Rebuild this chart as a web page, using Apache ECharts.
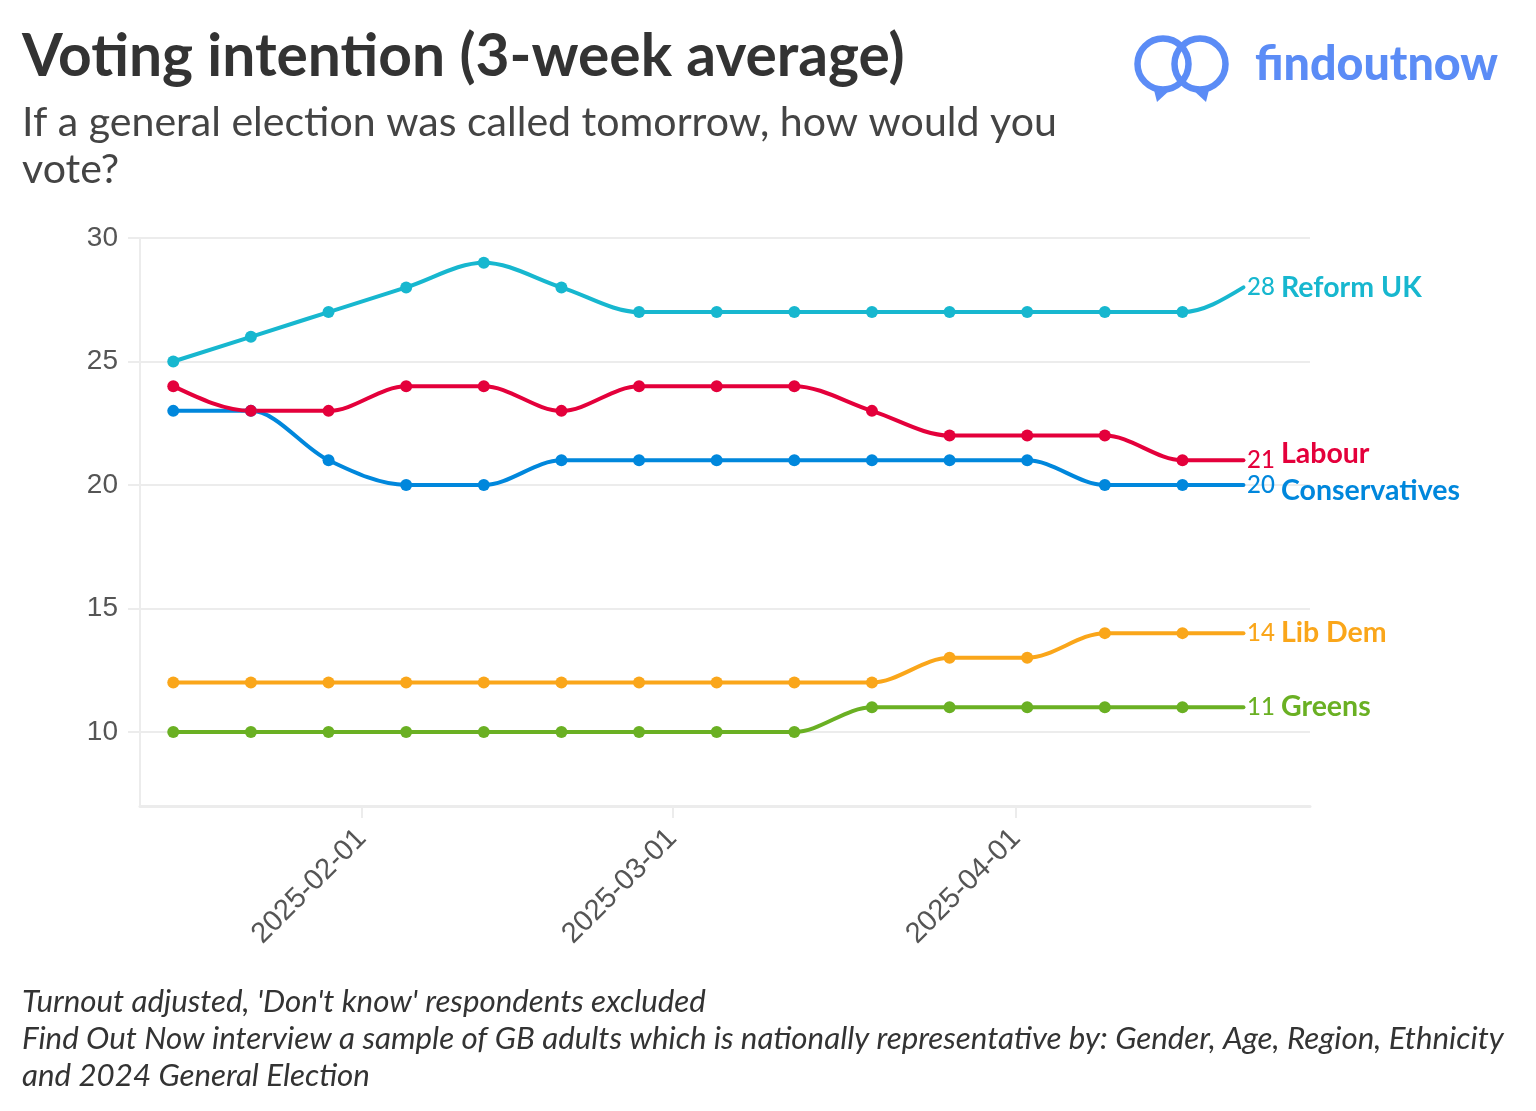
<!DOCTYPE html>
<html>
<head>
<meta charset="utf-8">
<script src="https://cdn.jsdelivr.net/npm/echarts@6/dist/echarts.min.js"></script>
<style>
html,body{margin:0;padding:0;background:#fff;}
#chart{width:1536px;height:1111px;}
</style>
</head>
<body>
<div id="chart"></div>
<script>
// ---- data ----
const dates = ['2025-01-15','2025-01-22','2025-01-29','2025-02-05','2025-02-12','2025-02-19','2025-02-26','2025-03-05','2025-03-12','2025-03-19','2025-03-26','2025-04-02','2025-04-09','2025-04-16','2025-04-21 12:00'];
const reformUK      = [25,26,27,28,29,28,27,27,27,27,27,27,27,27,28];
const labour        = [24,23,23,24,24,23,24,24,24,23,22,22,22,21,21];
const conservatives = [23,23,21,20,20,21,21,21,21,21,21,21,20,20,20];
const libDem        = [12,12,12,12,12,12,12,12,12,12,13,13,14,14,14];
const greens        = [10,10,10,10,10,10,10,10,10,11,11,11,11,11,11];
const monthTicks = ['2025-02-01','2025-03-01','2025-04-01'];
const yTicks = [10,15,20,25,30];

const titleText = 'Voting intention (3-week average)';
const subtitleLines = ['If a general election was called tomorrow, how would you','vote?'];
const footerLines = ["Turnout adjusted, 'Don't know' respondents excluded",
  'Find Out Now interview a sample of GB adults which is nationally representative by: Gender, Age, Region, Ethnicity',
  'and 2024 General Election'];

// ---- helpers ----
function toTs(s){ const m=s.match(/(\d+)-(\d+)-(\d+)(?: (\d+):(\d+))?/); return Date.UTC(+m[1],+m[2]-1,+m[3],+(m[4]||0),+(m[5]||0)); }
function fmt(v){ const d=new Date(v); const p=n=>String(n).padStart(2,'0'); return d.getUTCFullYear()+'-'+p(d.getUTCMonth()+1)+'-'+p(d.getUTCDate()); }
const cvs=document.createElement('canvas').getContext('2d');
function fit(text, style, weight, family, target){
  cvs.font = style+' '+weight+' 100px '+family;
  const w = cvs.measureText(text).width;
  return Math.round(100*target/w*10)/10;
}

const FONT = 'Lato, "Noto Sans", sans-serif';
const AXFONT = '"Liberation Sans", Arial, sans-serif';
const last = dates.length-1;
const LW = 4;

// monotone-X cubic tangents (Fritsch–Carlson, as d3.curveMonotoneX)
function sgn(v){ return v<0?-1:1; }
function monoSegments(pts){
  const n = pts.length, t = new Array(n);
  for (let i=1;i<n-1;i++){
    const h0 = pts[i][0]-pts[i-1][0], h1 = pts[i+1][0]-pts[i][0];
    const s0 = (pts[i][1]-pts[i-1][1])/h0, s1 = (pts[i+1][1]-pts[i][1])/h1;
    const p = (s0*h1 + s1*h0)/(h0+h1);
    t[i] = (sgn(s0)+sgn(s1)) * Math.min(Math.abs(s0), Math.abs(s1), 0.5*Math.abs(p)) || 0;
  }
  const e = (a,b,tt)=>{ const h=b[0]-a[0]; return h ? (3*(b[1]-a[1])/h - tt)/2 : tt; };
  t[0] = e(pts[0], pts[1], t[1]);
  t[n-1] = e(pts[n-2], pts[n-1], t[n-2]);
  const segs = [];
  for (let i=0;i<n-1;i++){
    const a=pts[i], b=pts[i+1], dx=(b[0]-a[0])/3;
    segs.push({x1:a[0], y1:a[1], cpx1:a[0]+dx, cpy1:a[1]+dx*t[i], cpx2:b[0]-dx, cpy2:b[1]-dx*t[i+1], x2:b[0], y2:b[1]});
  }
  return segs;
}

function curveSeries(vals, color){
  return {
    type:'custom', silent:true, z:1, clip:true,
    data: dates.map((d,i)=>[toTs(d), vals[i]]),
    encode:{x:0, y:1},
    renderItem:(params, api)=>{
      if (params.dataIndex !== 0) return null;
      const pts = dates.map((d,i)=>api.coord([toTs(d), vals[i]]));
      return {type:'group', children: monoSegments(pts).map(s=>({
        type:'bezierCurve', shape:s, style:{stroke:color, lineWidth:LW, fill:null, lineCap:'round'}
      }))};
    }
  };
}

function markSeries(name, vals, color, dy){
  const data = dates.map((d,i)=> i===last ? {value:[toTs(d), vals[i]], symbol:'none'} : [toTs(d), vals[i]]);
  return {
    type:'line', name, data, z:3,
    symbol:'circle', symbolSize:12, showSymbol:true, showAllSymbol:true,
    lineStyle:{width:0, opacity:0}, itemStyle:{color},
    emphasis:{disabled:true},
    markPoint:{
      symbol:'circle', symbolSize:1, itemStyle:{color:'rgba(0,0,0,0)'},
      data:[
        {coord:[toTs(dates[last]), vals[last]], label:{show:true, position:'right', distance:3, offset:[0,0], formatter:String(vals[last]), color, fontSize:24, fontFamily:FONT, fontWeight:500}},
        {coord:[toTs(dates[last]), vals[last]], label:{show:true, position:'right', distance:37, offset:[0,dy], formatter:name, color, fontWeight:'bold', fontSize:28.5, fontFamily:FONT}}
      ]
    }
  };
}

const titleSize = fit(titleText,'normal','bold','Lato',883);
const subSize = fit(subtitleLines[0],'normal','normal','Lato',1035);
const footSize = fit(footerLines[1],'italic','normal','Lato',1480);
const logoSize = fit('findoutnow','normal','900','Lato',243);
const logoColor = '#5b8cf6';

const graphic = [
  {type:'text', left:22, top:28, style:{text:titleText, font:'bold '+titleSize+'px Lato', fill:'#333'}},
  {type:'text', left:22, top:102, style:{text:subtitleLines[0], font:'normal '+subSize+'px Lato', fill:'#444'}},
  {type:'text', left:22, top:149, style:{text:subtitleLines[1], font:'normal '+subSize+'px Lato', fill:'#444'}},
  {type:'text', left:22, top:986, style:{text:footerLines[0], font:'italic '+footSize+'px Lato', fill:'#333'}},
  {type:'text', left:22, top:1023, style:{text:footerLines[1], font:'italic '+footSize+'px Lato', fill:'#333'}},
  {type:'text', left:22, top:1060, style:{text:footerLines[2], font:'italic '+footSize+'px Lato', fill:'#333'}},
  // logo
  {type:'circle', shape:{cx:1163, cy:64, r:25.5}, style:{fill:'none', stroke:logoColor, lineWidth:6.5}},
  {type:'circle', shape:{cx:1200, cy:64, r:25.5}, style:{fill:'none', stroke:logoColor, lineWidth:6.5}},
  {type:'polygon', shape:{points:[[1153,86],[1170,90],[1157,102]]}, style:{fill:logoColor}},
  {type:'polygon', shape:{points:[[1193,90],[1210,86],[1206,102]]}, style:{fill:logoColor}},
  {type:'text', left:1255, top:41, style:{text:'findoutnow', font:'900 '+logoSize+'px Lato', fill:logoColor}}
];

const chart = echarts.init(document.getElementById('chart'), null, {renderer:'canvas'});
chart.setOption({
  animation:false,
  backgroundColor:'#fff',
  graphic,
  grid:{left:140, right:226, top:238, bottom:305, containLabel:false},
  xAxis:{
    type:'value',
    min:toTs('2025-01-12'), max:toTs('2025-04-27 12:00'),
    axisLine:{show:true, lineStyle:{color:'#ececec', width:3}},
    axisTick:{show:true, length:12, lineStyle:{color:'#ececec', width:2}, customValues:monthTicks.map(toTs)},
    axisLabel:{show:true, rotate:45, margin:28, color:'#555', fontSize:29, fontFamily:AXFONT, formatter:v=>fmt(v), customValues:monthTicks.map(toTs)},
    splitLine:{show:false}
  },
  yAxis:{
    type:'value', min:7, max:30,
    axisLine:{show:true, lineStyle:{color:'#ececec', width:2}},
    axisTick:{show:true, length:12, lineStyle:{color:'#ececec', width:2}, customValues:yTicks},
    axisLabel:{show:true, margin:22, color:'#555', fontSize:28, fontFamily:AXFONT, customValues:yTicks},
    splitLine:{show:true, lineStyle:{color:'#ececec', width:2}},
    splitNumber:5
  },
  series:[
    curveSeries(greens, '#6ab023'),
    curveSeries(libDem, '#faa61a'),
    curveSeries(conservatives, '#0087dc'),
    curveSeries(labour, '#e4003b'),
    curveSeries(reformUK, '#17b7cf'),
    markSeries('Greens', greens, '#6ab023', 0),
    markSeries('Lib Dem', libDem, '#faa61a', 0),
    markSeries('Conservatives', conservatives, '#0087dc', 6),
    markSeries('Labour', labour, '#e4003b', -6),
    markSeries('Reform UK', reformUK, '#17b7cf', 0)
  ]
});
</script>
</body>
</html>
